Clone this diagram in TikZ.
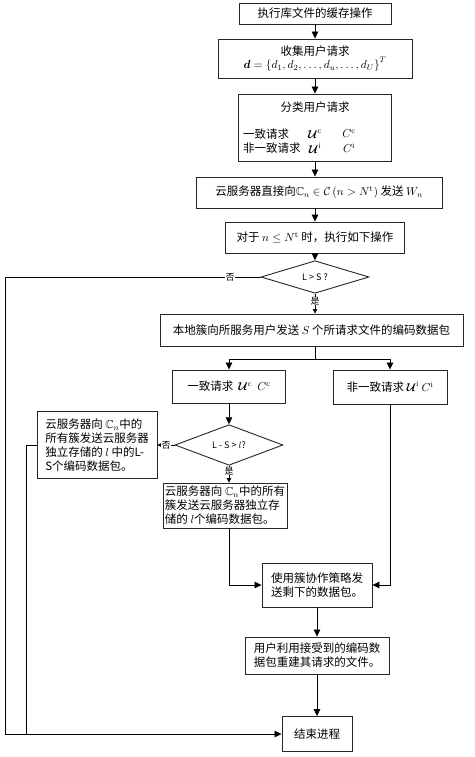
\documentclass[tikz,border=0pt]{standalone}
\usepackage{fix-cm}
\usepackage{amsmath,amssymb,bm}
\usepackage[no-math]{fontspec}
\setmainfont{Noto Sans CJK SC}
\usetikzlibrary{shapes.geometric,arrows.meta}
\begin{document}
\begin{tikzpicture}[x=1pt,y=-1pt,
  box/.style={draw=black!85, line width=0.9pt, inner sep=2pt, align=left,
    font=\fontsize{11.5}{14}\selectfont},
  dec/.style={draw=black!85, line width=0.9pt, shape=diamond, inner sep=0pt,
    font=\fontsize{9}{10}\selectfont},
  txt/.style={inner sep=0pt, font=\fontsize{11.5}{14}\selectfont},
  arr/.style={line width=0.8pt, -{Triangle[length=7pt,width=6.5pt]}},
  sarr/.style={line width=0.8pt, -{Triangle[length=4.5pt,width=4.5pt]}},
  ln/.style={line width=0.8pt},
  lab/.style={fill=white, inner sep=0.5pt, font=\fontsize{9}{10}\selectfont}
]
\useasboundingbox (0,0) rectangle (474,757);

\node[box, align=center, minimum width=152pt, minimum height=21pt] (b1) at (315,13.5) {执行库文件的缓存操作};
\node[box, align=center, minimum width=194pt, minimum height=39pt] (b2) at (315,58.5) {收集用户请求\\[-1pt] $\bm{d}=\left\{d_1,d_2,\ldots,d_u,\ldots,d_U\right\}^T$};
\node[box, minimum width=153pt, minimum height=67pt] (b3) at (315,127.5) {};
\node[txt] (t3a) at (315,107) {分类用户请求};
\node[txt, anchor=west] (t3b) at (243,134) {一致请求};
\node[txt, anchor=west] (t3c) at (243,148) {非一致请求};
\node[txt] (u3b) at (315,134) {$\bm{\mathcal{U}}^{\mathrm{c}}$};
\node[txt] (c3b) at (349,134) {$C^{\mathrm{c}}$};
\node[txt] (u3c) at (315,148) {$\bm{\mathcal{U}}^{\mathrm{i}}$};
\node[txt] (c3c) at (349,148) {$C^{\mathrm{i}}$};

\node[box, minimum width=246pt, minimum height=31pt] (b4) at (319,192.5) {云服务器直接向$\mathbb{C}_n\in\mathcal{C}\left(n>N^{\mathrm{t}}\right)$ 发送 $W_n$};
\node[box, minimum width=179pt, minimum height=31pt] (b5) at (315,237.5) {对于 $n\le N^{\mathrm{t}}$ 时，执行如下操作};
\node[dec, minimum width=108pt, minimum height=23pt] (d1) at (315,277) {L > S ?};
\node[box, minimum width=303pt, minimum height=32pt] (b7) at (311.5,330) {本地簇向所服务用户发送 $S$ 个所请求文件的编码数据包};
\node[box, minimum width=113pt, minimum height=33pt] (b8) at (229,386.5) {一致请求\ \ $\bm{\mathcal{U}}^{\mathrm{c}}$\ \ $C^{\mathrm{c}}$};
\node[box, minimum width=114pt, minimum height=34pt] (b9) at (390,387) {非一致请求 $\bm{\mathcal{U}}^{\mathrm{i}}$ $C^{\mathrm{i}}$};
\node[dec, minimum width=108pt, minimum height=34pt] (d2) at (229,445) {L - S > $l$?};
\node[box, minimum width=120pt, minimum height=67pt] (b11) at (97,445) {云服务器向 $\mathbb{C}_n$中的\\所有簇发送云服务器\\独立存储的 $l$ 中的L-\\S个编码数据包。};
\node[box, minimum width=124pt, minimum height=45pt] (b12) at (225,505.5) {云服务器向 $\mathbb{C}_n$中的所有\\簇发送云服务器独立存\\储的 $l$个编码数据包。};
\node[box, minimum width=110pt, minimum height=44pt] (b13) at (317,585) {使用簇协作策略发\\送剩下的数据包。};
\node[box, minimum width=144pt, minimum height=37pt] (b14) at (317,655.5) {用户利用接受到的编码数\\据包重建其请求的文件。};
\node[box, align=center, minimum width=70pt, minimum height=35pt] (b15) at (317,734) {结束进程};

\coordinate (c2) at (5,734);
\coordinate (s) at (315,359);
\coordinate (c4) at (26,734);

\draw[arr] (b1.south) -- (b2.north);
\draw[arr] (b2.south) -- (b3.north);
\draw[arr] (b3.south) -- (b3.south |- b4.north);
\draw[arr] (b5.north |- b4.south) -- (b5.north);
\draw[arr] (b5.south) -- (d1.north);
\draw[sarr] (d1.south) -- (d1.south |- b7.north);
\draw[arr] (d1.west) -| (c2) -- (b15.west);
\draw[ln] (s |- b7.south) -- (s);
\draw[arr] (s) -| (b8.north);
\draw[arr] (s) -| (b9.north);
\draw[arr] (b8.south) -- (d2.north);
\draw[sarr] (d2.west) -- (b11.east);
\draw[sarr] (d2.south) -- (d2.south |- b12.north);
\draw[ln] (b11.west) -| (c4);
\draw[arr] (d2.south |- b12.south) |- (b13.west);
\draw[arr] (b9.south) |- (b13.east);
\draw[arr] (b13.south) -- (b14.north);
\draw[arr] (b14.south) -- (b15.north);

\node[lab] (no1) at (230,277) {否};
\node[lab] (yes1) at (315,301) {是};
\node[lab] (no2) at (166,445) {否};
\node[lab] (yes2) at (229,471) {是};
\end{tikzpicture}
\end{document}
